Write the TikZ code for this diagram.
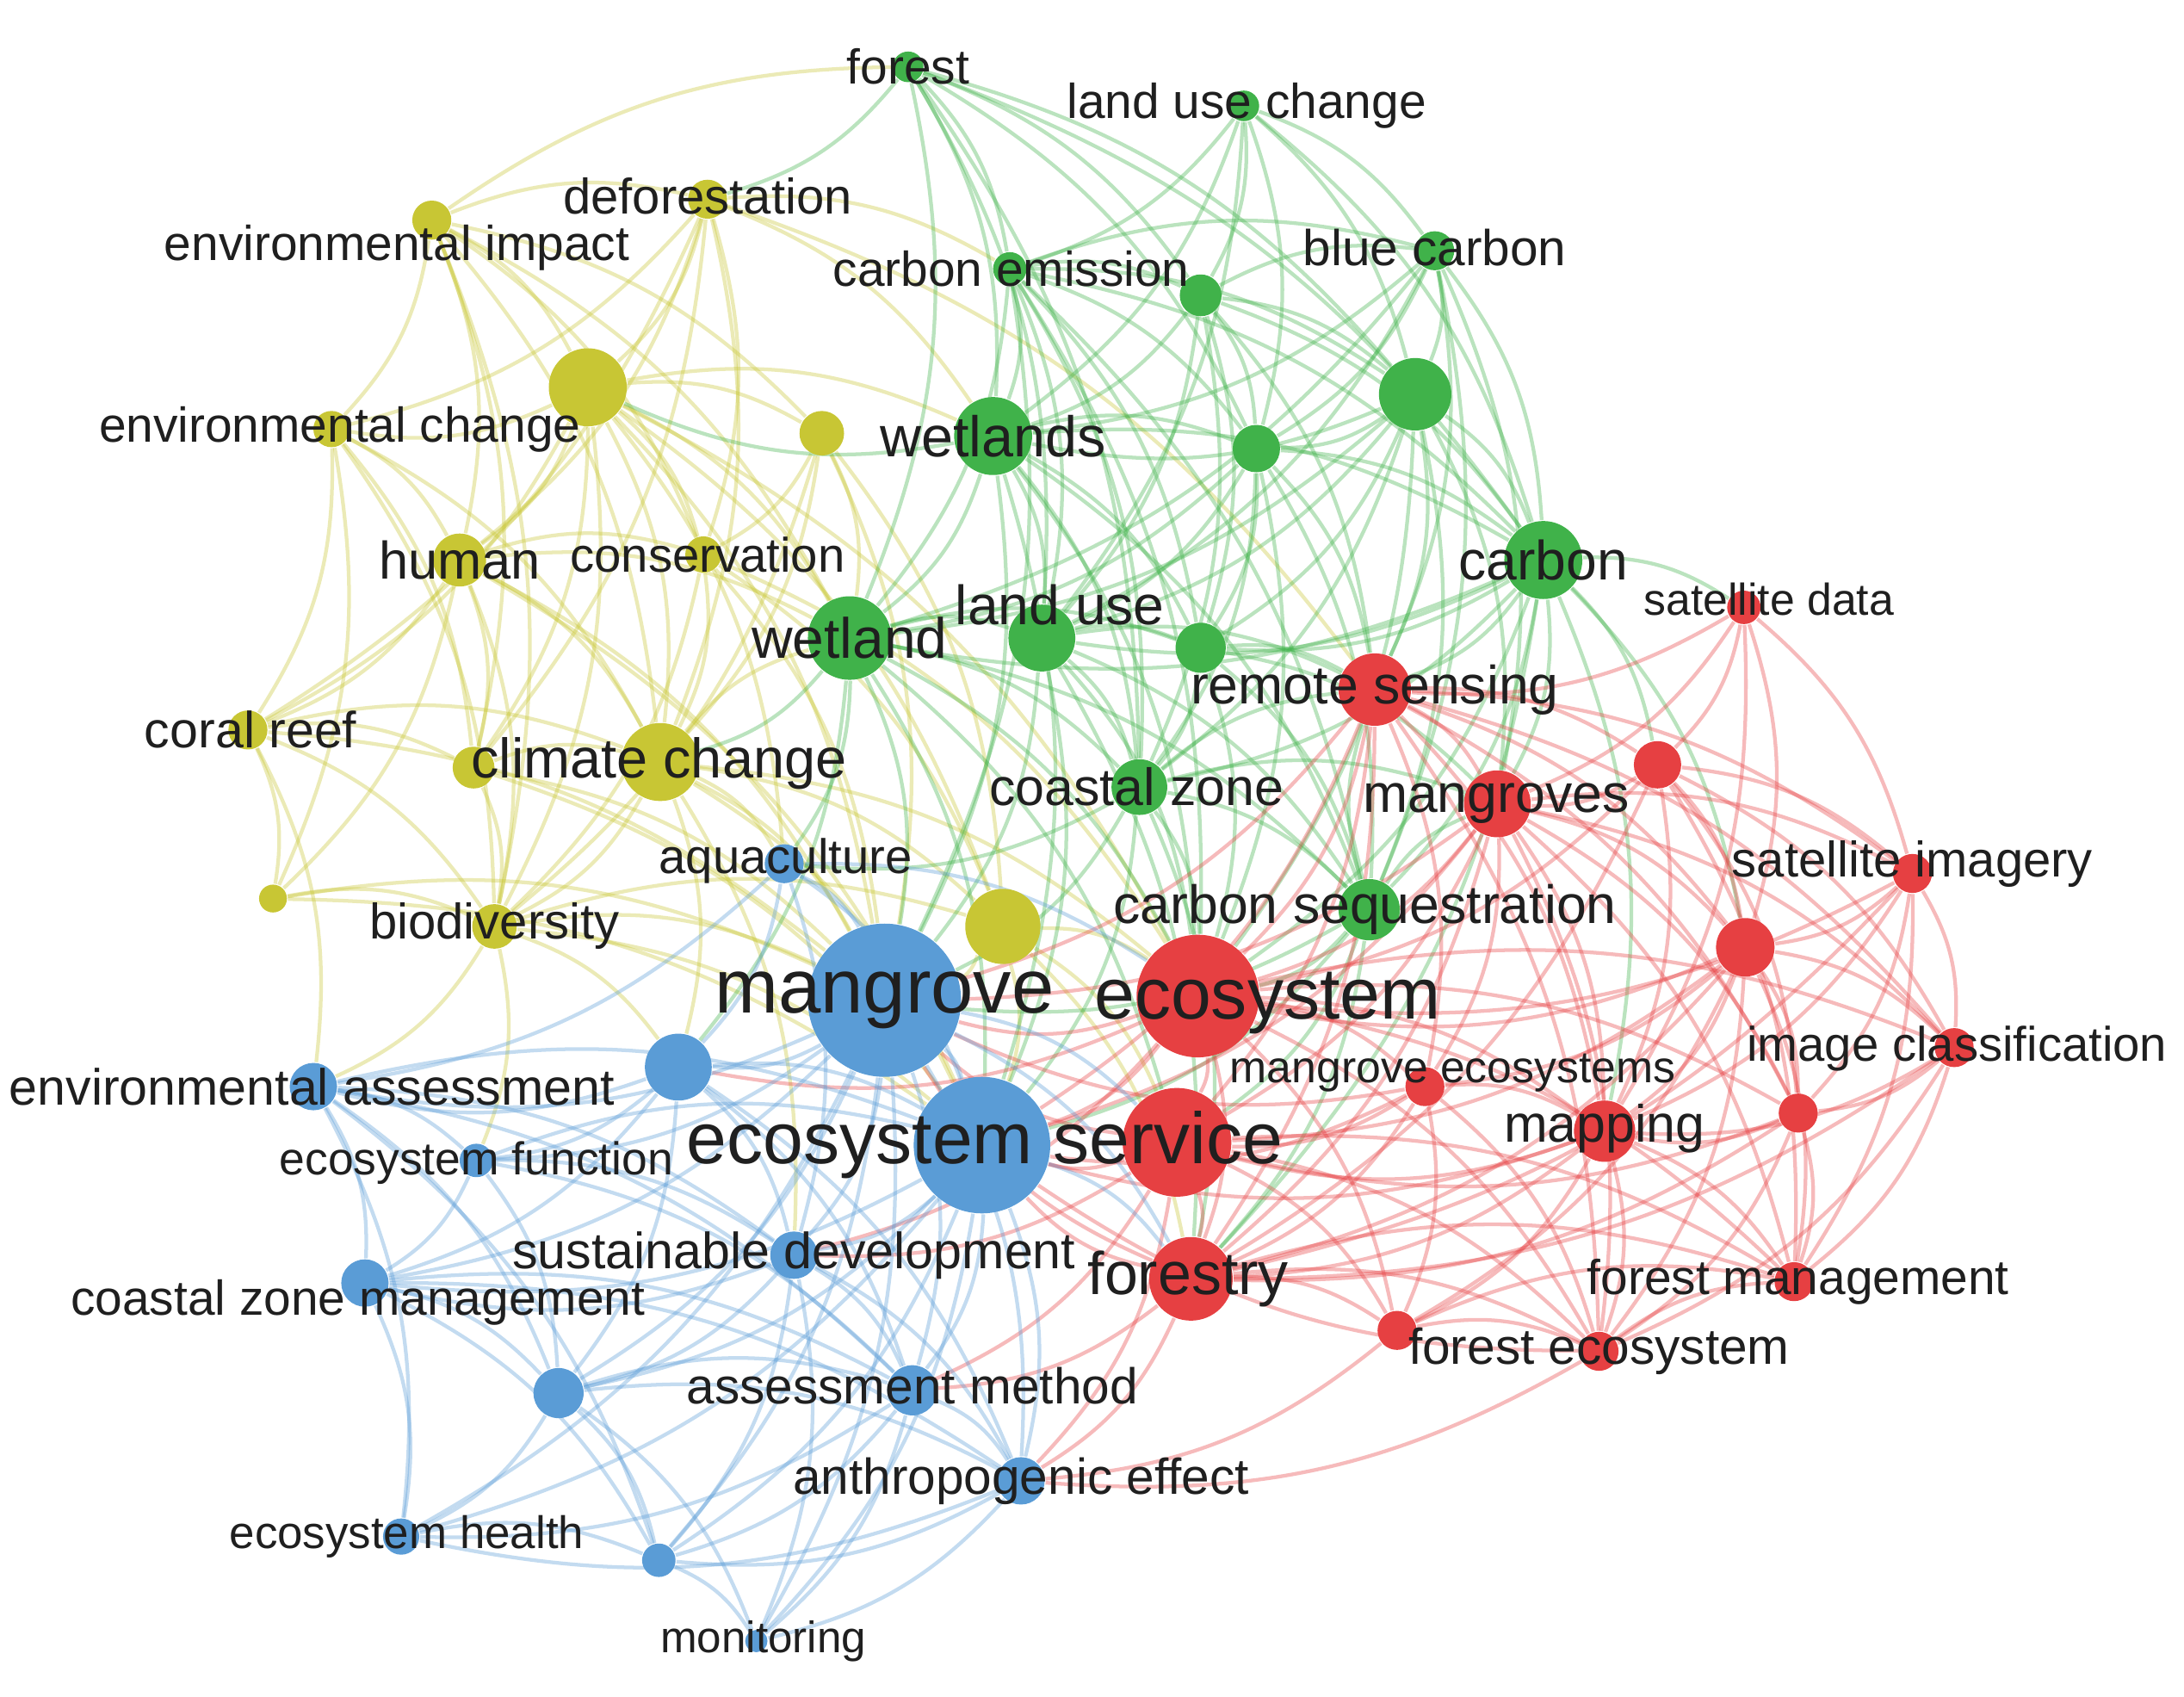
\documentclass[tikz,border=0pt]{standalone}
\usepackage{fontspec}
\setmainfont{Liberation Sans}
\usetikzlibrary{positioning}
\pgfdeclarelayer{background}
\pgfsetlayers{background,main}
\definecolor{ycol}{RGB}{200,198,52}
\definecolor{gcol}{RGB}{64,178,74}
\definecolor{rcol}{RGB}{230,64,66}
\definecolor{bcol}{RGB}{90,156,214}

\begin{document}
\begin{tikzpicture}[
    yk/.style = {circle, fill = ycol, inner sep = 0pt, minimum size = #1},
    gk/.style = {circle, fill = gcol, inner sep = 0pt, minimum size = #1},
    rk/.style = {circle, fill = rcol, inner sep = 0pt, minimum size = #1},
    bk/.style = {circle, fill = bcol, inner sep = 0pt, minimum size = #1},
    txt/.style = {font = \fontsize{#1}{#1}\selectfont, text = black!88, inner sep = 0pt},
    link/.style = {every edge/.style = {draw = #1, line width = .75pt,
        draw opacity = .36, bend left = 17}}]
\useasboundingbox (0,0) rectangle (15.68,-12.18);

% yellow cluster
\node[yk=2.8mm] (deforest)  at (5.08,-1.43) {};
\node[yk=2.8mm] (envimpact) at (3.10,-1.58) {};
\node[yk=5.6mm] (y1)        at (4.22,-2.78) {};
\node[yk=2.6mm] (envchange) at (2.38,-3.08) {};
\node[yk=3.2mm] (y2)        at (5.90,-3.11) {};
\node[yk=3.8mm] (human)     at (3.30,-4.02) {};
\node[yk=2.6mm] (conserv)   at (5.05,-3.98) {};
\node[yk=2.8mm] (coralreef) at (1.78,-5.24) {};
\node[yk=3.0mm] (y3)        at (3.40,-5.51) {};
\node[yk=5.6mm] (climate)   at (4.74,-5.47) {};
\node[yk=2.0mm] (y4)        at (1.96,-6.45) {};
\node[yk=3.2mm] (biodiv)    at (3.55,-6.65) {};
\node[yk=5.4mm] (y5)        at (7.20,-6.65) {};

% green cluster
\node[gk=2.2mm] (forest)      at (6.52,-0.48) {};
\node[gk=2.2mm] (landusech)   at (8.93,-0.76) {};
\node[gk=2.4mm] (carbonem)    at (7.25,-1.93) {};
\node[gk=3.0mm] (g1)          at (8.62,-2.12) {};
\node[gk=2.8mm] (bluecarbon)  at (10.30,-1.80) {};
\node[gk=5.2mm] (g2)          at (10.16,-2.83) {};
\node[gk=5.6mm] (wetlands)    at (7.13,-3.13) {};
\node[gk=3.4mm] (g3)          at (9.02,-3.22) {};
\node[gk=5.6mm] (carbon)      at (11.08,-4.02) {};
\node[gk=6.0mm] (wetland)     at (6.10,-4.58) {};
\node[gk=4.8mm] (landuse)     at (7.48,-4.58) {};
\node[gk=3.6mm] (g4)          at (8.62,-4.65) {};
\node[gk=4.0mm] (coastalzone) at (8.18,-5.65) {};
\node[gk=4.4mm] (carbonseq)   at (9.83,-6.53) {};

% red cluster
\node[rk=2.4mm] (satdata)    at (12.52,-4.36) {};
\node[rk=5.2mm] (remote)     at (9.87,-4.95) {};
\node[rk=3.4mm] (r1)         at (11.90,-5.49) {};
\node[rk=4.8mm] (mangroves)  at (10.75,-5.77) {};
\node[rk=2.8mm] (satimg)     at (13.73,-6.27) {};
\node[rk=4.2mm] (r2)         at (12.53,-6.80) {};
\node[rk=8.8mm] (ecosystem)  at (8.60,-7.15) {};
\node[rk=2.8mm] (imgclass)   at (14.03,-7.52) {};
\node[rk=2.8mm] (mgecos)     at (10.23,-7.80) {};
\node[rk=2.8mm] (r3)         at (12.91,-7.99) {};
\node[rk=4.4mm] (mapping)    at (11.52,-8.12) {};
\node[rk=7.8mm] (r4)         at (8.45,-8.20) {};
\node[rk=6.0mm] (forestry)   at (8.55,-9.18) {};
\node[rk=2.8mm] (forestmgmt) at (12.88,-9.20) {};
\node[rk=2.8mm] (r5)         at (10.03,-9.55) {};
\node[rk=2.8mm] (forestecos) at (11.48,-9.70) {};

% blue cluster
\node[bk=2.8mm]  (aquacult)   at (5.63,-6.20) {};
\node[bk=11mm]   (mangrove)   at (6.35,-7.18) {};
\node[bk=4.8mm]  (b1)         at (4.87,-7.66) {};
\node[bk=3.4mm]  (envassess)  at (2.25,-7.80) {};
\node[bk=2.4mm]  (ecofunc)    at (3.42,-8.33) {};
\node[bk=9.8mm]  (ecoservice) at (7.05,-8.22) {};
\node[bk=3.4mm]  (sustdev)    at (5.70,-9.01) {};
\node[bk=3.4mm]  (czm)        at (2.62,-9.21) {};
\node[bk=3.6mm]  (b2)         at (4.01,-10.00) {};
\node[bk=3.6mm]  (assessm)    at (6.55,-9.98) {};
\node[bk=3.4mm]  (anthro)     at (7.33,-10.63) {};
\node[bk=2.6mm]  (ecohealth)  at (2.88,-11.03) {};
\node[bk=2.4mm]  (b3)         at (4.73,-11.20) {};
\node[bk=1.6mm]  (monitor)    at (5.43,-11.78) {};

% links
\begin{pgfonlayer}{background}
\draw[link=ycol] (envimpact) edge (deforest) edge (y1) edge (envchange) edge (human)
    edge (climate) edge (forest) edge (conserv) edge (y3) edge (biodiv) edge (wetland) edge (y2);
\draw[link=ycol] (deforest) edge (y1) edge (human) edge (conserv) edge (climate) edge (y3)
    edge (envchange) edge (wetlands) edge (coralreef) edge (carbonem) edge (remote);
\draw[link=ycol] (y1) edge (envchange) edge (human) edge (conserv) edge (climate) edge (y3)
    edge (coralreef) edge (biodiv) edge (wetlands) edge (wetland) edge (mangrove)
    edge (ecosystem) edge (y5) edge (aquacult) edge (y2);
\draw[link=ycol] (envchange) edge (human) edge (coralreef) edge (climate) edge (y3)
    edge (biodiv) edge (y4);
\draw[link=ycol] (y2) edge (conserv) edge (climate) edge (wetland) edge (y5) edge (mangrove) edge (biodiv);
\draw[link=ycol] (human) edge (conserv) edge (coralreef) edge (climate) edge (y3) edge (biodiv)
    edge (y4) edge (mangrove) edge (ecoservice) edge (wetland);
\draw[link=ycol] (conserv) edge (climate) edge (y5) edge (mangrove) edge (biodiv) edge (ecosystem);
\draw[link=ycol] (coralreef) edge (climate) edge (y3) edge (biodiv) edge (y4) edge (mangrove) edge (envassess);
\draw[link=ycol] (y3) edge (climate) edge (biodiv) edge (mangrove) edge (ecoservice);
\draw[link=ycol] (climate) edge (biodiv) edge (y5) edge (mangrove) edge (ecosystem) edge (ecoservice)
    edge (wetland) edge (aquacult) edge (b1) edge (sustdev);
\draw[link=ycol] (y4) edge (biodiv) edge (mangrove) edge (ecoservice);
\draw[link=ycol] (biodiv) edge (mangrove) edge (ecoservice) edge (b1) edge (y5) edge (ecofunc) edge (envassess);
\draw[link=ycol] (y5) edge (mangrove) edge (ecosystem) edge (ecoservice) edge (r4) edge (forestry);

\draw[link=gcol] (forest) edge (carbonem) edge (wetlands) edge (g1) edge (landuse) edge (wetland)
    edge (g3) edge (coastalzone) edge (deforest) edge (carbon) edge (g2);
\draw[link=gcol] (landusech) edge (carbonem) edge (g1) edge (g2) edge (g3) edge (landuse)
    edge (wetlands) edge (bluecarbon) edge (carbon);
\draw[link=gcol] (carbonem) edge (g1) edge (bluecarbon) edge (g2) edge (wetlands) edge (g3)
    edge (landuse) edge (wetland) edge (g4) edge (coastalzone) edge (carbon) edge (ecosystem)
    edge (carbonseq) edge (mangrove);
\draw[link=gcol] (g1) edge (bluecarbon) edge (g2) edge (wetlands) edge (g3) edge (landuse)
    edge (carbon) edge (g4) edge (remote) edge (coastalzone);
\draw[link=gcol] (bluecarbon) edge (g2) edge (g3) edge (carbon) edge (wetlands) edge (landuse)
    edge (carbonseq) edge (mangroves) edge (remote) edge (wetland);
\draw[link=gcol] (g2) edge (g3) edge (carbon) edge (wetlands) edge (landuse) edge (g4)
    edge (carbonseq) edge (mangroves) edge (coastalzone) edge (ecosystem) edge (wetland) edge (remote);
\draw[link=gcol] (wetlands) edge (g3) edge (wetland) edge (landuse) edge (g4) edge (coastalzone)
    edge (carbonseq) edge (mangrove) edge (ecosystem) edge (ecoservice) edge (carbon) edge (y1);
\draw[link=gcol] (g3) edge (carbon) edge (landuse) edge (g4) edge (wetland) edge (coastalzone)
    edge (carbonseq) edge (ecosystem) edge (remote);
\draw[link=gcol] (carbon) edge (satdata) edge (landuse) edge (g4) edge (remote) edge (mangroves)
    edge (carbonseq) edge (ecosystem) edge (r1) edge (coastalzone) edge (wetland) edge (r2)
    edge (forestry) edge (mapping);
\draw[link=gcol] (wetland) edge (landuse) edge (coastalzone) edge (mangrove) edge (ecoservice)
    edge (ecosystem) edge (climate) edge (carbonseq) edge (g4) edge (aquacult) edge (b1) edge (r4);
\draw[link=gcol] (landuse) edge (g4) edge (coastalzone) edge (remote) edge (ecosystem) edge (mangrove)
    edge (ecoservice) edge (carbonseq) edge (forestry);
\draw[link=gcol] (g4) edge (coastalzone) edge (remote) edge (carbonseq) edge (ecosystem) edge (mangroves);
\draw[link=gcol] (coastalzone) edge (carbonseq) edge (mangrove) edge (ecosystem) edge (ecoservice)
    edge (forestry) edge (aquacult) edge (remote) edge (mangroves);
\draw[link=gcol] (carbonseq) edge (ecosystem) edge (mangroves) edge (r4) edge (forestry)
    edge (mangrove) edge (ecoservice) edge (remote);

\draw[link=rcol] (satdata) edge (r1) edge (remote) edge (mangroves) edge (satimg) edge (r2) edge (mapping);
\draw[link=rcol] (remote) edge (r1) edge (mangroves) edge (ecosystem) edge (r2) edge (satimg)
    edge (mapping) edge (mgecos) edge (forestry) edge (r4) edge (imgclass) edge (r3)
    edge (forestecos) edge (mangrove) edge (ecoservice);
\draw[link=rcol] (r1) edge (mangroves) edge (satimg) edge (r2) edge (imgclass) edge (mapping)
    edge (r3) edge (ecosystem) edge (forestmgmt) edge (forestry);
\draw[link=rcol] (mangroves) edge (satimg) edge (r2) edge (ecosystem) edge (mapping) edge (mgecos)
    edge (r4) edge (forestry) edge (imgclass) edge (r3) edge (forestecos) edge (mangrove)
    edge (ecoservice) edge (forestmgmt);
\draw[link=rcol] (satimg) edge (r2) edge (imgclass) edge (r3) edge (mapping) edge (forestmgmt)
    edge (ecosystem) edge (forestry);
\draw[link=rcol] (r2) edge (imgclass) edge (r3) edge (mapping) edge (forestmgmt) edge (forestecos)
    edge (ecosystem) edge (r4) edge (forestry) edge (mgecos) edge (r5);
\draw[link=rcol] (ecosystem) edge (r4) edge (forestry) edge (mgecos) edge (mapping) edge (mangrove)
    edge (ecoservice) edge (r5) edge (forestecos) edge (forestmgmt) edge (imgclass) edge (r3)
    edge (sustdev) edge (b1);
\draw[link=rcol] (imgclass) edge (r3) edge (mapping) edge (forestmgmt) edge (forestecos) edge (forestry);
\draw[link=rcol] (mgecos) edge (mapping) edge (r4) edge (forestry) edge (r5) edge (forestecos)
    edge (mangrove) edge (ecoservice);
\draw[link=rcol] (r3) edge (mapping) edge (forestmgmt) edge (forestecos) edge (forestry) edge (r4);
\draw[link=rcol] (mapping) edge (r4) edge (forestry) edge (forestmgmt) edge (forestecos) edge (r5)
    edge (ecoservice);
\draw[link=rcol] (r4) edge (forestry) edge (r5) edge (forestecos) edge (forestmgmt) edge (mangrove)
    edge (ecoservice) edge (assessm) edge (anthro) edge (sustdev);
\draw[link=rcol] (forestry) edge (r5) edge (forestecos) edge (forestmgmt) edge (ecoservice)
    edge (mangrove) edge (anthro) edge (assessm);
\draw[link=rcol] (r5) edge (forestecos) edge (forestmgmt) edge (anthro);
\draw[link=rcol] (forestecos) edge (forestmgmt) edge (anthro) edge (ecoservice);

\draw[link=bcol] (aquacult) edge (mangrove) edge (b1) edge (ecoservice) edge (sustdev)
    edge (ecosystem) edge (envassess);
\draw[link=bcol] (mangrove) edge (b1) edge (ecoservice) edge (envassess) edge (ecofunc) edge (sustdev)
    edge (czm) edge (b2) edge (assessm) edge (anthro) edge (ecohealth) edge (b3) edge (monitor)
    edge (forestry) edge (r4);
\draw[link=bcol] (b1) edge (ecoservice) edge (envassess) edge (ecofunc) edge (sustdev) edge (czm)
    edge (b2) edge (assessm) edge (anthro);
\draw[link=bcol] (envassess) edge (ecofunc) edge (czm) edge (b2) edge (sustdev) edge (ecoservice)
    edge (assessm) edge (ecohealth) edge (b3);
\draw[link=bcol] (ecofunc) edge (czm) edge (b2) edge (sustdev) edge (ecoservice) edge (assessm);
\draw[link=bcol] (ecoservice) edge (sustdev) edge (czm) edge (b2) edge (assessm) edge (anthro)
    edge (ecohealth) edge (b3) edge (monitor) edge (forestry);
\draw[link=bcol] (sustdev) edge (czm) edge (b2) edge (assessm) edge (anthro) edge (b3) edge (monitor);
\draw[link=bcol] (czm) edge (b2) edge (assessm) edge (anthro) edge (ecohealth) edge (b3);
\draw[link=bcol] (b2) edge (assessm) edge (anthro) edge (ecohealth) edge (b3) edge (monitor);
\draw[link=bcol] (assessm) edge (anthro) edge (b3) edge (monitor) edge (ecohealth);
\draw[link=bcol] (anthro) edge (b3) edge (monitor) edge (ecohealth);
\draw[link=bcol] (ecohealth) edge (b3);
\draw[link=bcol] (b3) edge (monitor);
\end{pgfonlayer}

% labels
\node[txt=10]   (forest-l)      at (6.52,-0.48)  {forest};
\node[txt=10]   (landusech-l)   at (8.95,-0.76)  {land use change};
\node[txt=10.2] (deforest-l)    at (5.08,-1.41)  {deforestation};
\node[txt=10]   (envimpact-l)   at (2.85,-1.78)  {environmental impact};
\node[txt=10]   (carbonem-l)    at (7.26,-1.93)  {carbon emission};
\node[txt=10.3] (bluecarbon-l)  at (10.30,-1.78) {blue carbon};
\node[txt=10]   (envchange-l)   at (2.44,-3.08)  {environmental change};
\node[txt=11.7] (wetlands-l)    at (7.13,-3.13)  {wetlands};
\node[txt=10.8] (human-l)       at (3.30,-4.02)  {human};
\node[txt=9.9]  (conserv-l)     at (5.08,-3.98)  {conservation};
\node[txt=11.3] (carbon-l)      at (11.08,-4.02) {carbon};
\node[txt=9.1]  (satdata-l)     at (12.70,-4.30) {satellite data};
\node[txt=11.6] (wetland-l)     at (6.10,-4.58)  {wetland};
\node[txt=11.3] (landuse-l)     at (7.61,-4.34)  {land use};
\node[txt=11]   (remote-l)      at (9.87,-4.95)  {remote sensing};
\node[txt=10.4] (coralreef-l)   at (1.80,-5.24)  {coral reef};
\node[txt=11.4] (climate-l)     at (4.73,-5.48)  {climate change};
\node[txt=10.7] (coastalzone-l) at (8.16,-5.65)  {coastal zone};
\node[txt=11]   (mangroves-l)   at (10.74,-5.77) {mangroves};
\node[txt=9.9]  (aquacult-l)    at (5.64,-6.18)  {aquaculture};
\node[txt=10.2] (satimg-l)      at (13.73,-6.20) {satellite imagery};
\node[txt=10.2] (biodiv-l)      at (3.55,-6.65)  {biodiversity};
\node[txt=11]   (carbonseq-l)   at (9.80,-6.53)  {carbon sequestration};
\node[txt=15.6] (mangrove-l)    at (6.35,-7.18)  {mangrove};
\node[txt=14.8] (ecosystem-l)   at (9.10,-7.20)  {ecosystem};
\node[txt=9.9]  (imgclass-l)    at (14.05,-7.53) {image classification};
\node[txt=9.1]  (mgecos-l)      at (10.43,-7.70) {mangrove ecosystems};
\node[txt=10.4] (envassess-l)   at (2.24,-7.80)  {environmental assessment};
\node[txt=9.4]  (ecofunc-l)     at (3.42,-8.35)  {ecosystem function};
\node[txt=10.7] (mapping-l)     at (11.52,-8.10) {mapping};
\node[txt=14.8] (ecoservice-l)  at (7.07,-8.22)  {ecosystem service};
\node[txt=10.4] (sustdev-l)     at (5.70,-9.01)  {sustainable development};
\node[txt=12.3] (forestry-l)    at (8.53,-9.18)  {forestry};
\node[txt=10]   (forestmgmt-l)  at (12.91,-9.20) {forest management};
\node[txt=10]   (czm-l)         at (2.57,-9.35)  {coastal zone management};
\node[txt=10.3] (forestecos-l)  at (11.48,-9.70) {forest ecosystem};
\node[txt=10.3] (assessm-l)     at (6.55,-9.95)  {assessment method};
\node[txt=10.3] (anthro-l)      at (7.33,-10.63) {anthropogenic effect};
\node[txt=9.3]  (ecohealth-l)   at (2.92,-11.03) {ecosystem health};
\node[txt=9]    (monitor-l)     at (5.48,-11.78) {monitoring};
\end{tikzpicture}
\end{document}
